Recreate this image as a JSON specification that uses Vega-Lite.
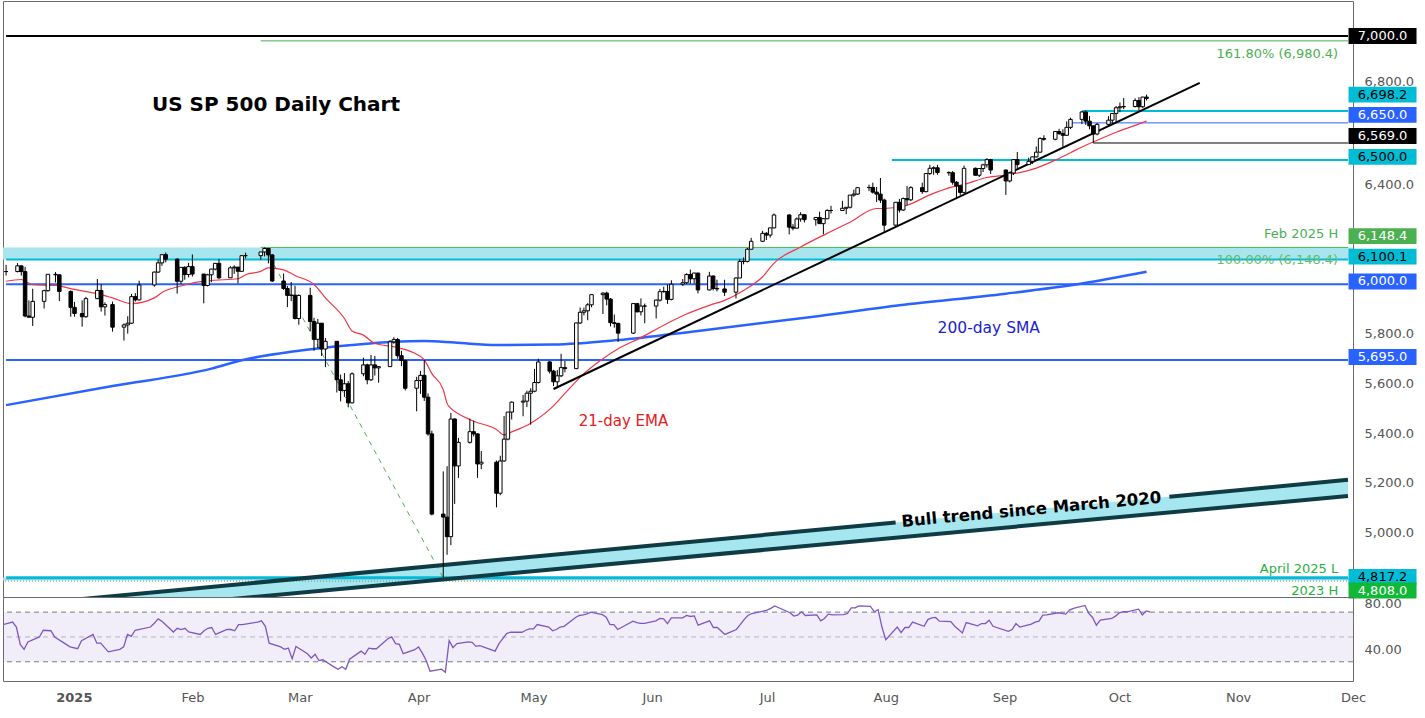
{
 "$schema": "https://vega.github.io/schema/vega-lite/v6.json",
 "background": "white",
 "padding": 0,
 "spacing": 0,
 "bounds": "flush",
 "config": {"view": {"stroke": "#6b6b6b", "strokeWidth": 1}, "font": "DejaVu Sans", "axis": {"labelFont": "DejaVu Sans"}},
 "datasets": {
  "candles": [
   {"d":"2024-12-13","o":6051,"h":6078,"l":6035,"c":6051,"r":59.5},
   {"d":"2024-12-16","o":6051,"h":6085,"l":6048,"c":6074,"r":62},
   {"d":"2024-12-17","o":6074,"h":6076,"l":6035,"c":6051,"r":58},
   {"d":"2024-12-18","o":6051,"h":6070,"l":5867,"c":5872,"r":44},
   {"d":"2024-12-19","o":5872,"h":5935,"l":5866,"c":5867,"r":40},
   {"d":"2024-12-20","o":5867,"h":5982,"l":5832,"c":5931,"r":46},
   {"d":"2024-12-23","o":5931,"h":5978,"l":5902,"c":5974,"r":50},
   {"d":"2024-12-24","o":5974,"h":6040,"l":5970,"c":6040,"r":55.4},
   {"d":"2024-12-26","o":6040,"h":6049,"l":6007,"c":6038,"r":55},
   {"d":"2024-12-27","o":6038,"h":6040,"l":5932,"c":5971,"r":50},
   {"d":"2024-12-30","o":5971,"h":5975,"l":5869,"c":5907,"r":44},
   {"d":"2024-12-31","o":5907,"h":5929,"l":5869,"c":5882,"r":42},
   {"d":"2025-01-02","o":5882,"h":5935,"l":5829,"c":5869,"r":40.5},
   {"d":"2025-01-03","o":5869,"h":5949,"l":5865,"c":5942,"r":47},
   {"d":"2025-01-06","o":5942,"h":6021,"l":5940,"c":5975,"r":52},
   {"d":"2025-01-07","o":5975,"h":6000,"l":5890,"c":5909,"r":45},
   {"d":"2025-01-08","o":5909,"h":5927,"l":5874,"c":5918,"r":45},
   {"d":"2025-01-10","o":5918,"h":5930,"l":5809,"c":5827,"r":38},
   {"d":"2025-01-13","o":5827,"h":5842,"l":5773,"c":5836,"r":40},
   {"d":"2025-01-14","o":5836,"h":5871,"l":5801,"c":5843,"r":42},
   {"d":"2025-01-15","o":5843,"h":5961,"l":5840,"c":5950,"r":52},
   {"d":"2025-01-16","o":5950,"h":5964,"l":5930,"c":5937,"r":50.5},
   {"d":"2025-01-17","o":5937,"h":6014,"l":5935,"c":5997,"r":55.4},
   {"d":"2025-01-21","o":5997,"h":6051,"l":5990,"c":6049,"r":58},
   {"d":"2025-01-22","o":6049,"h":6100,"l":6045,"c":6086,"r":61},
   {"d":"2025-01-23","o":6086,"h":6119,"l":6074,"c":6119,"r":64.6},
   {"d":"2025-01-24","o":6119,"h":6128,"l":6088,"c":6101,"r":62.7},
   {"d":"2025-01-27","o":6101,"h":6105,"l":5962,"c":6012,"r":54},
   {"d":"2025-01-28","o":6012,"h":6069,"l":6001,"c":6068,"r":57},
   {"d":"2025-01-29","o":6068,"h":6072,"l":6018,"c":6039,"r":56},
   {"d":"2025-01-30","o":6039,"h":6086,"l":6028,"c":6071,"r":57},
   {"d":"2025-01-31","o":6071,"h":6120,"l":6031,"c":6041,"r":54},
   {"d":"2025-02-03","o":6041,"h":6041,"l":5923,"c":5995,"r":52},
   {"d":"2025-02-04","o":5995,"h":6042,"l":5991,"c":6038,"r":55},
   {"d":"2025-02-05","o":6038,"h":6062,"l":6008,"c":6061,"r":57},
   {"d":"2025-02-06","o":6061,"h":6084,"l":6056,"c":6084,"r":57.6},
   {"d":"2025-02-07","o":6084,"h":6101,"l":6020,"c":6026,"r":52},
   {"d":"2025-02-10","o":6026,"h":6073,"l":6026,"c":6066,"r":56},
   {"d":"2025-02-11","o":6066,"h":6076,"l":6042,"c":6069,"r":56},
   {"d":"2025-02-12","o":6069,"h":6069,"l":6003,"c":6052,"r":55},
   {"d":"2025-02-13","o":6052,"h":6116,"l":6051,"c":6115,"r":60},
   {"d":"2025-02-14","o":6115,"h":6127,"l":6104,"c":6115,"r":60},
   {"d":"2025-02-18","o":6115,"h":6130,"l":6099,"c":6130,"r":62},
   {"d":"2025-02-19","o":6130,"h":6148,"l":6112,"c":6144,"r":63},
   {"d":"2025-02-20","o":6144,"h":6146,"l":6084,"c":6118,"r":58.6},
   {"d":"2025-02-21","o":6118,"h":6121,"l":6009,"c":6013,"r":45},
   {"d":"2025-02-24","o":6013,"h":6043,"l":5977,"c":5983,"r":42},
   {"d":"2025-02-25","o":5983,"h":5993,"l":5908,"c":5955,"r":40},
   {"d":"2025-02-26","o":5955,"h":6009,"l":5932,"c":5956,"r":41},
   {"d":"2025-02-27","o":5956,"h":5994,"l":5858,"c":5862,"r":32.4},
   {"d":"2025-02-28","o":5862,"h":5959,"l":5837,"c":5955,"r":42.4},
   {"d":"2025-03-03","o":5955,"h":5986,"l":5810,"c":5850,"r":36.5},
   {"d":"2025-03-04","o":5850,"h":5865,"l":5732,"c":5778,"r":33},
   {"d":"2025-03-05","o":5778,"h":5860,"l":5742,"c":5843,"r":36},
   {"d":"2025-03-06","o":5843,"h":5843,"l":5711,"c":5739,"r":31},
   {"d":"2025-03-07","o":5739,"h":5783,"l":5666,"c":5770,"r":31.6},
   {"d":"2025-03-10","o":5770,"h":5770,"l":5564,"c":5615,"r":25.7},
   {"d":"2025-03-11","o":5615,"h":5636,"l":5528,"c":5572,"r":24},
   {"d":"2025-03-12","o":5572,"h":5642,"l":5546,"c":5599,"r":26},
   {"d":"2025-03-13","o":5599,"h":5610,"l":5504,"c":5522,"r":24},
   {"d":"2025-03-14","o":5522,"h":5645,"l":5520,"c":5639,"r":32},
   {"d":"2025-03-17","o":5639,"h":5704,"l":5629,"c":5675,"r":38.6},
   {"d":"2025-03-18","o":5675,"h":5680,"l":5597,"c":5615,"r":36},
   {"d":"2025-03-19","o":5615,"h":5715,"l":5610,"c":5675,"r":41},
   {"d":"2025-03-20","o":5675,"h":5711,"l":5632,"c":5663,"r":40.5},
   {"d":"2025-03-21","o":5663,"h":5670,"l":5603,"c":5668,"r":40.5},
   {"d":"2025-03-24","o":5668,"h":5775,"l":5668,"c":5768,"r":48.6},
   {"d":"2025-03-25","o":5768,"h":5787,"l":5760,"c":5777,"r":50},
   {"d":"2025-03-26","o":5777,"h":5784,"l":5700,"c":5712,"r":44.6},
   {"d":"2025-03-27","o":5712,"h":5732,"l":5670,"c":5693,"r":44},
   {"d":"2025-03-28","o":5693,"h":5695,"l":5572,"c":5581,"r":36.5},
   {"d":"2025-03-31","o":5581,"h":5627,"l":5488,"c":5612,"r":39.7},
   {"d":"2025-04-01","o":5612,"h":5651,"l":5558,"c":5633,"r":42},
   {"d":"2025-04-02","o":5633,"h":5695,"l":5530,"c":5545,"r":37},
   {"d":"2025-04-03","o":5545,"h":5560,"l":5390,"c":5397,"r":31},
   {"d":"2025-04-04","o":5397,"h":5410,"l":5069,"c":5074,"r":22.4},
   {"d":"2025-04-07","o":5074,"h":5246,"l":4817,"c":5062,"r":24},
   {"d":"2025-04-08","o":5062,"h":5267,"l":4910,"c":4983,"r":21.6},
   {"d":"2025-04-09","o":4983,"h":5481,"l":4949,"c":5457,"r":47},
   {"d":"2025-04-10","o":5457,"h":5460,"l":5115,"c":5268,"r":41.4},
   {"d":"2025-04-11","o":5268,"h":5381,"l":5220,"c":5363,"r":44.6},
   {"d":"2025-04-14","o":5363,"h":5459,"l":5358,"c":5406,"r":46},
   {"d":"2025-04-15","o":5406,"h":5450,"l":5387,"c":5397,"r":45.7},
   {"d":"2025-04-16","o":5397,"h":5400,"l":5220,"c":5276,"r":42.4},
   {"d":"2025-04-17","o":5276,"h":5328,"l":5255,"c":5283,"r":43},
   {"d":"2025-04-21","o":5283,"h":5290,"l":5101,"c":5158,"r":38.6},
   {"d":"2025-04-22","o":5158,"h":5309,"l":5150,"c":5288,"r":44.6},
   {"d":"2025-04-23","o":5288,"h":5469,"l":5285,"c":5376,"r":48.6},
   {"d":"2025-04-24","o":5376,"h":5484,"l":5371,"c":5485,"r":52.7},
   {"d":"2025-04-25","o":5485,"h":5528,"l":5455,"c":5525,"r":53.8},
   {"d":"2025-04-28","o":5525,"h":5554,"l":5468,"c":5529,"r":53.8},
   {"d":"2025-04-29","o":5529,"h":5571,"l":5505,"c":5561,"r":55.4},
   {"d":"2025-04-30","o":5561,"h":5581,"l":5434,"c":5569,"r":56.5},
   {"d":"2025-05-01","o":5569,"h":5659,"l":5565,"c":5604,"r":56.5},
   {"d":"2025-05-02","o":5604,"h":5700,"l":5600,"c":5687,"r":60},
   {"d":"2025-05-05","o":5687,"h":5690,"l":5640,"c":5650,"r":58},
   {"d":"2025-05-06","o":5650,"h":5655,"l":5590,"c":5607,"r":55},
   {"d":"2025-05-07","o":5607,"h":5654,"l":5586,"c":5631,"r":56},
   {"d":"2025-05-08","o":5631,"h":5720,"l":5626,"c":5664,"r":58},
   {"d":"2025-05-09","o":5664,"h":5691,"l":5645,"c":5660,"r":58.6},
   {"d":"2025-05-12","o":5660,"h":5845,"l":5660,"c":5844,"r":65.7},
   {"d":"2025-05-13","o":5844,"h":5906,"l":5840,"c":5887,"r":67.3},
   {"d":"2025-05-14","o":5887,"h":5906,"l":5875,"c":5893,"r":67.8},
   {"d":"2025-05-15","o":5893,"h":5924,"l":5855,"c":5917,"r":68.6},
   {"d":"2025-05-16","o":5917,"h":5958,"l":5907,"c":5958,"r":70},
   {"d":"2025-05-19","o":5958,"h":5968,"l":5880,"c":5964,"r":68},
   {"d":"2025-05-20","o":5964,"h":5970,"l":5915,"c":5940,"r":66},
   {"d":"2025-05-21","o":5940,"h":5945,"l":5830,"c":5845,"r":60},
   {"d":"2025-05-22","o":5845,"h":5878,"l":5825,"c":5842,"r":60},
   {"d":"2025-05-23","o":5842,"h":5845,"l":5768,"c":5803,"r":56},
   {"d":"2025-05-27","o":5803,"h":5922,"l":5800,"c":5922,"r":62.7},
   {"d":"2025-05-28","o":5922,"h":5925,"l":5886,"c":5889,"r":61.6},
   {"d":"2025-05-29","o":5889,"h":5943,"l":5874,"c":5912,"r":61},
   {"d":"2025-05-30","o":5912,"h":5922,"l":5843,"c":5912,"r":61},
   {"d":"2025-06-02","o":5912,"h":5939,"l":5862,"c":5936,"r":63},
   {"d":"2025-06-03","o":5936,"h":5981,"l":5930,"c":5970,"r":64.9},
   {"d":"2025-06-04","o":5970,"h":5990,"l":5966,"c":5971,"r":64.6},
   {"d":"2025-06-05","o":5971,"h":5999,"l":5921,"c":5939,"r":60.8},
   {"d":"2025-06-06","o":5939,"h":6016,"l":5935,"c":6000,"r":65.4},
   {"d":"2025-06-09","o":6000,"h":6021,"l":5993,"c":6006,"r":65.4},
   {"d":"2025-06-10","o":6006,"h":6044,"l":6001,"c":6039,"r":67.3},
   {"d":"2025-06-11","o":6039,"h":6059,"l":6002,"c":6022,"r":66.5},
   {"d":"2025-06-12","o":6022,"h":6046,"l":6003,"c":6045,"r":67},
   {"d":"2025-06-13","o":6045,"h":6046,"l":5963,"c":5977,"r":59.5},
   {"d":"2025-06-16","o":5977,"h":6050,"l":5975,"c":6033,"r":63},
   {"d":"2025-06-17","o":6033,"h":6036,"l":5975,"c":5983,"r":57.6},
   {"d":"2025-06-18","o":5983,"h":6018,"l":5971,"c":5981,"r":57.6},
   {"d":"2025-06-20","o":5981,"h":6018,"l":5953,"c":5968,"r":52},
   {"d":"2025-06-23","o":5968,"h":6028,"l":5943,"c":6025,"r":56},
   {"d":"2025-06-24","o":6025,"h":6101,"l":6025,"c":6092,"r":60},
   {"d":"2025-06-25","o":6092,"h":6108,"l":6080,"c":6092,"r":64},
   {"d":"2025-06-26","o":6092,"h":6146,"l":6088,"c":6141,"r":67.3},
   {"d":"2025-06-27","o":6141,"h":6187,"l":6140,"c":6173,"r":68.9},
   {"d":"2025-06-30","o":6173,"h":6215,"l":6170,"c":6205,"r":70.8},
   {"d":"2025-07-01","o":6205,"h":6210,"l":6178,"c":6198,"r":71.6},
   {"d":"2025-07-02","o":6198,"h":6227,"l":6188,"c":6227,"r":73},
   {"d":"2025-07-03","o":6227,"h":6285,"l":6225,"c":6279,"r":75},
   {"d":"2025-07-07","o":6279,"h":6282,"l":6201,"c":6230,"r":69.5},
   {"d":"2025-07-08","o":6230,"h":6242,"l":6217,"c":6226,"r":66.8},
   {"d":"2025-07-09","o":6226,"h":6269,"l":6224,"c":6263,"r":67.6},
   {"d":"2025-07-10","o":6263,"h":6290,"l":6252,"c":6280,"r":70.3},
   {"d":"2025-07-11","o":6280,"h":6282,"l":6249,"c":6260,"r":67.3},
   {"d":"2025-07-14","o":6260,"h":6270,"l":6236,"c":6269,"r":67.8},
   {"d":"2025-07-15","o":6269,"h":6292,"l":6243,"c":6244,"r":63},
   {"d":"2025-07-16","o":6244,"h":6266,"l":6201,"c":6264,"r":64.9},
   {"d":"2025-07-17","o":6264,"h":6302,"l":6262,"c":6297,"r":68.4},
   {"d":"2025-07-18","o":6297,"h":6316,"l":6285,"c":6297,"r":67.8},
   {"d":"2025-07-21","o":6297,"h":6336,"l":6295,"c":6306,"r":68},
   {"d":"2025-07-22","o":6306,"h":6310,"l":6282,"c":6310,"r":68.9},
   {"d":"2025-07-23","o":6310,"h":6360,"l":6305,"c":6359,"r":73.5},
   {"d":"2025-07-24","o":6359,"h":6381,"l":6352,"c":6363,"r":73.5},
   {"d":"2025-07-25","o":6363,"h":6390,"l":6360,"c":6389,"r":75},
   {"d":"2025-07-28","o":6389,"h":6401,"l":6375,"c":6390,"r":74.6},
   {"d":"2025-07-29","o":6390,"h":6409,"l":6365,"c":6371,"r":70.3},
   {"d":"2025-07-30","o":6371,"h":6392,"l":6331,"c":6363,"r":72},
   {"d":"2025-07-31","o":6363,"h":6428,"l":6327,"c":6339,"r":58},
   {"d":"2025-08-01","o":6339,"h":6345,"l":6212,"c":6238,"r":47.8},
   {"d":"2025-08-04","o":6238,"h":6330,"l":6235,"c":6330,"r":58},
   {"d":"2025-08-05","o":6330,"h":6344,"l":6289,"c":6299,"r":53.5},
   {"d":"2025-08-06","o":6299,"h":6349,"l":6295,"c":6345,"r":57.6},
   {"d":"2025-08-07","o":6345,"h":6396,"l":6318,"c":6340,"r":57.6},
   {"d":"2025-08-08","o":6340,"h":6395,"l":6335,"c":6389,"r":62},
   {"d":"2025-08-11","o":6389,"h":6409,"l":6364,"c":6373,"r":58.6},
   {"d":"2025-08-12","o":6373,"h":6446,"l":6370,"c":6446,"r":64},
   {"d":"2025-08-13","o":6446,"h":6481,"l":6440,"c":6467,"r":65.4},
   {"d":"2025-08-14","o":6467,"h":6475,"l":6441,"c":6469,"r":65.7},
   {"d":"2025-08-15","o":6469,"h":6481,"l":6441,"c":6450,"r":62.7},
   {"d":"2025-08-18","o":6450,"h":6455,"l":6437,"c":6449,"r":62.4},
   {"d":"2025-08-19","o":6449,"h":6456,"l":6401,"c":6411,"r":58.6},
   {"d":"2025-08-20","o":6411,"h":6415,"l":6343,"c":6396,"r":56},
   {"d":"2025-08-21","o":6396,"h":6400,"l":6360,"c":6370,"r":53.2},
   {"d":"2025-08-22","o":6370,"h":6478,"l":6365,"c":6467,"r":61.6},
   {"d":"2025-08-25","o":6467,"h":6470,"l":6438,"c":6439,"r":59},
   {"d":"2025-08-26","o":6439,"h":6467,"l":6432,"c":6466,"r":60.8},
   {"d":"2025-08-27","o":6466,"h":6485,"l":6452,"c":6481,"r":60.8},
   {"d":"2025-08-28","o":6481,"h":6508,"l":6470,"c":6502,"r":63.5},
   {"d":"2025-08-29","o":6502,"h":6505,"l":6444,"c":6460,"r":58.6},
   {"d":"2025-09-02","o":6460,"h":6462,"l":6360,"c":6416,"r":54.6},
   {"d":"2025-09-03","o":6416,"h":6453,"l":6410,"c":6448,"r":56},
   {"d":"2025-09-04","o":6448,"h":6502,"l":6440,"c":6502,"r":60.8},
   {"d":"2025-09-05","o":6502,"h":6533,"l":6460,"c":6482,"r":58},
   {"d":"2025-09-08","o":6482,"h":6510,"l":6480,"c":6495,"r":60.3},
   {"d":"2025-09-09","o":6495,"h":6513,"l":6485,"c":6513,"r":62},
   {"d":"2025-09-10","o":6513,"h":6555,"l":6510,"c":6532,"r":62.7},
   {"d":"2025-09-11","o":6532,"h":6592,"l":6530,"c":6587,"r":67.6},
   {"d":"2025-09-12","o":6587,"h":6600,"l":6578,"c":6584,"r":67.8},
   {"d":"2025-09-15","o":6584,"h":6616,"l":6580,"c":6615,"r":69.5},
   {"d":"2025-09-16","o":6615,"h":6626,"l":6601,"c":6607,"r":69},
   {"d":"2025-09-17","o":6607,"h":6624,"l":6552,"c":6600,"r":68.4},
   {"d":"2025-09-18","o":6600,"h":6656,"l":6598,"c":6632,"r":71.6},
   {"d":"2025-09-19","o":6632,"h":6671,"l":6625,"c":6664,"r":73},
   {"d":"2025-09-22","o":6664,"h":6697,"l":6645,"c":6694,"r":75.4},
   {"d":"2025-09-23","o":6694,"h":6700,"l":6642,"c":6657,"r":69},
   {"d":"2025-09-24","o":6657,"h":6677,"l":6624,"c":6638,"r":65.7},
   {"d":"2025-09-25","o":6638,"h":6640,"l":6569,"c":6605,"r":59.5},
   {"d":"2025-09-26","o":6605,"h":6650,"l":6600,"c":6644,"r":63.5},
   {"d":"2025-09-29","o":6644,"h":6677,"l":6640,"c":6661,"r":64.9},
   {"d":"2025-09-30","o":6661,"h":6689,"l":6643,"c":6688,"r":66.8},
   {"d":"2025-10-01","o":6688,"h":6718,"l":6650,"c":6711,"r":69.5},
   {"d":"2025-10-02","o":6711,"h":6732,"l":6693,"c":6715,"r":70.3},
   {"d":"2025-10-03","o":6715,"h":6750,"l":6705,"c":6716,"r":70.3},
   {"d":"2025-10-06","o":6716,"h":6749,"l":6712,"c":6740,"r":72.4},
   {"d":"2025-10-07","o":6740,"h":6754,"l":6701,"c":6715,"r":67.8},
   {"d":"2025-10-08","o":6715,"h":6755,"l":6710,"c":6754,"r":71},
   {"d":"2025-10-09","o":6754,"h":6764,"l":6740,"c":6748,"r":70.3}
  ],
  "ema": [
   {"d":"2024-12-13","v":6012},{"d":"2024-12-17","v":6019},{"d":"2024-12-20","v":5998},{"d":"2024-12-26","v":5995},
   {"d":"2024-12-31","v":5979},{"d":"2025-01-06","v":5962},{"d":"2025-01-10","v":5945},{"d":"2025-01-15","v":5922},
   {"d":"2025-01-21","v":5945},{"d":"2025-01-23","v":5967},{"d":"2025-01-28","v":5993},{"d":"2025-01-31","v":6005},
   {"d":"2025-02-05","v":6015},{"d":"2025-02-12","v":6022},{"d":"2025-02-14","v":6038},{"d":"2025-02-18","v":6052},
   {"d":"2025-02-20","v":6066},{"d":"2025-02-24","v":6058},{"d":"2025-02-27","v":6035},{"d":"2025-03-04","v":5999},
   {"d":"2025-03-07","v":5945},{"d":"2025-03-12","v":5862},{"d":"2025-03-14","v":5812},{"d":"2025-03-17","v":5795},
   {"d":"2025-03-20","v":5762},{"d":"2025-03-26","v":5745},{"d":"2025-03-31","v":5718},{"d":"2025-04-02","v":5695},
   {"d":"2025-04-04","v":5640},{"d":"2025-04-07","v":5575},{"d":"2025-04-08","v":5520},{"d":"2025-04-09","v":5500},
   {"d":"2025-04-11","v":5478},{"d":"2025-04-15","v":5448},{"d":"2025-04-21","v":5415},{"d":"2025-04-23","v":5393},
   {"d":"2025-04-25","v":5405},{"d":"2025-04-30","v":5440},{"d":"2025-05-06","v":5510},{"d":"2025-05-09","v":5560},
   {"d":"2025-05-14","v":5640},{"d":"2025-05-19","v":5700},{"d":"2025-05-23","v":5740},{"d":"2025-05-29","v":5785},
   {"d":"2025-06-04","v":5835},{"d":"2025-06-10","v":5880},{"d":"2025-06-16","v":5915},{"d":"2025-06-20","v":5935},
   {"d":"2025-06-25","v":5975},{"d":"2025-06-30","v":6030},{"d":"2025-07-03","v":6085},{"d":"2025-07-10","v":6150},
   {"d":"2025-07-17","v":6205},{"d":"2025-07-23","v":6250},{"d":"2025-07-30","v":6305},{"d":"2025-08-01","v":6305},
   {"d":"2025-08-07","v":6318},{"d":"2025-08-13","v":6360},{"d":"2025-08-19","v":6392},{"d":"2025-08-22","v":6402},
   {"d":"2025-08-28","v":6430},{"d":"2025-09-03","v":6442},{"d":"2025-09-10","v":6468},{"d":"2025-09-15","v":6500},
   {"d":"2025-09-19","v":6530},{"d":"2025-09-23","v":6560},{"d":"2025-09-26","v":6580},{"d":"2025-10-01","v":6612},
   {"d":"2025-10-06","v":6640},{"d":"2025-10-09","v":6657}
  ],
  "sma": [
   {"d":"2024-12-13","v":5513},{"d":"2025-01-10","v":5590},{"d":"2025-02-05","v":5660},{"d":"2025-02-13","v":5694},
   {"d":"2025-02-27","v":5730},{"d":"2025-03-14","v":5755},{"d":"2025-03-25","v":5768},{"d":"2025-04-02","v":5771},
   {"d":"2025-04-10","v":5765},{"d":"2025-04-21","v":5755},{"d":"2025-05-06","v":5757},{"d":"2025-05-23","v":5775},
   {"d":"2025-06-13","v":5812},{"d":"2025-07-15","v":5872},{"d":"2025-08-05","v":5915},{"d":"2025-09-02","v":5962},
   {"d":"2025-09-22","v":6003},{"d":"2025-10-09","v":6050}
  ],
  "chanArea": [
   {"d":"2024-12-13","lo":4648,"hi":4703},{"d":"2025-12-01","lo":5147,"hi":5212}
  ],
  "chanLines": [
   {"d":"2024-12-13","p":4703,"g":"u1"},{"d":"2025-08-04","p":5040,"g":"u1"},
   {"d":"2025-10-15","p":5144,"g":"u2"},{"d":"2025-12-01","p":5212,"g":"u2"},
   {"d":"2024-12-13","p":4648,"g":"lo"},{"d":"2025-12-01","p":5147,"g":"lo"}
  ],
  "trend": [{"d":"2025-05-06","p":5578},{"d":"2025-10-23","p":6811}],
  "fib": [{"d":"2025-02-19","p":6148.4},{"d":"2025-04-07","p":4817.2}],
  "levels": [
   {"p":7000,"s":"2024-12-13","k":"K2"},
   {"p":6980.4,"s":"2025-02-18","k":"G1"},
   {"p":6698.2,"s":"2025-09-22","k":"T2"},
   {"p":6650,"s":"2025-09-19","k":"B1"},
   {"p":6569,"s":"2025-09-25","k":"K1"},
   {"p":6500,"s":"2025-08-03","k":"T2"},
   {"p":6148.4,"s":"2025-02-18","k":"G1"},
   {"p":6100.1,"s":"2024-12-13","k":"T2"},
   {"p":6000,"s":"2024-12-13","k":"B2"},
   {"p":5695,"s":"2024-12-13","k":"B2"},
   {"p":4817.2,"s":"2024-12-13","k":"T3"}
  ],
  "labels": [
   {"v":"7,000.0","at":7000,"k":"K"},
   {"v":"6,698.2","at":6764,"k":"T"},
   {"v":"6,650.0","at":6682,"k":"B"},
   {"v":"6,569.0","at":6597,"k":"K"},
   {"v":"6,500.0","at":6513,"k":"T"},
   {"v":"6,148.4","at":6194,"k":"G"},
   {"v":"6,100.1","at":6111,"k":"T"},
   {"v":"6,000.0","at":6011,"k":"B"},
   {"v":"5,695.0","at":5707,"k":"B"},
   {"v":"4,817.2","at":4821,"k":"T"},
   {"v":"4,808.0","at":4766,"k":"L"}
  ]
 },
 "vconcat": [
  {
   "width": 1350,
   "height": 596,
   "layer": [
    {
     "data": {"name": "chanArea"},
     "mark": {"type": "area", "color": "#a6e6ef", "clip": true},
     "encoding": {
      "x": {"field": "d", "type": "temporal", "axis": null, "scale": {"type": "utc", "domain": [{"year": 2024, "month": 12, "date": 13, "hours": 12, "utc": true}, {"year": 2025, "month": 12, "date": 1, "utc": true}]}},
      "y": {"field": "hi", "type": "quantitative", "scale": {"domain": [4740, 7141], "nice": false, "zero": false},
            "axis": {"orient": "right", "values": [5000, 5200, 5400, 5600, 5800, 6400, 6800], "format": ",.1f", "title": null, "grid": false, "ticks": false, "domain": false, "labelPadding": 11, "labelFontSize": 13, "labelColor": "#555555",
                     "labelOffset": {"condition": {"test": "datum.value==6800", "value": -4}, "value": 0}}},
      "y2": {"field": "lo"}
     }
    },
    {
     "data": {"values": [{}]},
     "mark": {"type": "rect", "color": "#a9e5ee"},
     "encoding": {"y": {"datum": 6100.1, "type": "quantitative"}, "y2": {"datum": 6148.4}}
    },
    {
     "data": {"values": [{}]},
     "mark": {"type": "rect", "color": "#bccff4"},
     "encoding": {"y": {"datum": 4806, "type": "quantitative"}, "y2": {"datum": 4817.2}}
    },
    {
     "data": {"values": [{}]},
     "mark": {"type": "rule", "color": "#4caf50", "strokeDash": [1, 2], "strokeWidth": 1},
     "encoding": {"y": {"datum": 4804, "type": "quantitative"}}
    },
    {
     "data": {"name": "levels"},
     "mark": {"type": "rule", "clip": true},
     "encoding": {
      "x": {"field": "s", "type": "temporal", "axis": null},
      "x2": {"datum": {"year": 2025, "month": 12, "date": 1, "utc": true}},
      "y": {"field": "p", "type": "quantitative"},
      "color": {"condition": [
        {"test": "indexof(datum.k,'K')==0", "value": "#000000"},
        {"test": "indexof(datum.k,'G')==0", "value": "#4caf50"},
        {"test": "indexof(datum.k,'T')==0", "value": "#00bcd4"}
       ], "value": "#2962ff"},
      "strokeWidth": {"condition": [
        {"test": "indexof(datum.k,'2')==1", "value": 2},
        {"test": "indexof(datum.k,'3')==1", "value": 3}
       ], "value": 1}
     }
    },
    {
     "data": {"name": "fib"},
     "mark": {"type": "line", "color": "#4caf50", "strokeDash": [5, 5], "strokeWidth": 1},
     "encoding": {"x": {"field": "d", "type": "temporal", "axis": null}, "y": {"field": "p", "type": "quantitative"}}
    },
    {
     "data": {"name": "sma"},
     "mark": {"type": "line", "color": "#2962ff", "strokeWidth": 2.5, "interpolate": "monotone"},
     "encoding": {"x": {"field": "d", "type": "temporal", "axis": null}, "y": {"field": "v", "type": "quantitative"}}
    },
    {
     "data": {"name": "ema"},
     "mark": {"type": "line", "color": "#f23645", "strokeWidth": 1.2, "interpolate": "monotone"},
     "encoding": {"x": {"field": "d", "type": "temporal", "axis": null}, "y": {"field": "v", "type": "quantitative"}}
    },
    {
     "data": {"name": "chanLines"},
     "mark": {"type": "line", "color": "#0f3b44", "strokeWidth": 4, "clip": true},
     "encoding": {"x": {"field": "d", "type": "temporal", "axis": null}, "y": {"field": "p", "type": "quantitative"}, "detail": {"field": "g"}}
    },
    {
     "data": {"name": "trend"},
     "mark": {"type": "line", "color": "#000000", "strokeWidth": 2},
     "encoding": {"x": {"field": "d", "type": "temporal", "axis": null}, "y": {"field": "p", "type": "quantitative"}}
    },
    {
     "data": {"name": "candles"},
     "mark": {"type": "rule", "color": "#000000", "strokeWidth": 1, "clip": true},
     "encoding": {"x": {"field": "d", "type": "temporal", "axis": null}, "y": {"field": "l", "type": "quantitative"}, "y2": {"field": "h"}}
    },
    {
     "data": {"name": "candles"},
     "mark": {"type": "bar", "width": 3.5, "stroke": "#000000", "strokeWidth": 1, "clip": true},
     "encoding": {
      "x": {"field": "d", "type": "temporal", "axis": null},
      "y": {"field": "o", "type": "quantitative"},
      "y2": {"field": "c"},
      "fill": {"condition": {"test": "datum.c >= datum.o", "value": "#ffffff"}, "value": "#000000"}
     }
    },
    {
     "data": {"values": [{}]},
     "mark": {"type": "text", "text": "US SP 500 Daily Chart", "fontSize": 20, "fontWeight": "bold", "align": "left", "baseline": "middle", "color": "#000000"},
     "encoding": {"x": {"datum": {"year": 2025, "month": 1, "date": 20, "hours": 9, "utc": true}, "type": "temporal", "axis": null}, "y": {"datum": 6722, "type": "quantitative"}}
    },
    {
     "data": {"values": [{}]},
     "mark": {"type": "text", "text": "200-day SMA", "fontSize": 15.5, "align": "center", "baseline": "middle", "color": "#1c1cd6"},
     "encoding": {"x": {"datum": {"year": 2025, "month": 8, "date": 28, "hours": 12, "utc": true}, "type": "temporal", "axis": null}, "y": {"datum": 5824, "type": "quantitative"}}
    },
    {
     "data": {"values": [{}]},
     "mark": {"type": "text", "text": "21-day EMA", "fontSize": 15, "align": "center", "baseline": "middle", "color": "#e62020"},
     "encoding": {"x": {"datum": {"year": 2025, "month": 5, "date": 24, "hours": 10, "utc": true}, "type": "temporal", "axis": null}, "y": {"datum": 5449, "type": "quantitative"}}
    },
    {
     "data": {"values": [{}]},
     "mark": {"type": "text", "text": "Bull trend since March 2020", "fontSize": 16.5, "fontWeight": "bold", "align": "center", "baseline": "middle", "angle": 354.7, "color": "#000000"},
     "encoding": {"x": {"datum": {"year": 2025, "month": 9, "date": 8, "hours": 17, "utc": true}, "type": "temporal", "axis": null}, "y": {"datum": 5091, "type": "quantitative"}}
    },
    {
     "data": {"values": [
       {"t": "161.80% (6,980.4)", "p": 6927, "g": "a"},
       {"t": "Feb 2025 H", "p": 6203, "g": "a"},
       {"t": "100.00% (6,148.4)", "p": 6098, "g": "b"},
       {"t": "April 2025 L", "p": 4853, "g": "c"},
       {"t": "2023 H", "p": 4766, "g": "c"}
     ]},
     "mark": {"type": "text", "fontSize": 13, "align": "right", "baseline": "middle"},
     "encoding": {
      "x": {"datum": {"year": 2025, "month": 11, "date": 28, "hours": 10, "utc": true}, "type": "temporal", "axis": null},
      "y": {"field": "p", "type": "quantitative"},
      "text": {"field": "t"},
      "color": {"condition": [{"test": "datum.g=='b'", "value": "#66bb6a"}, {"test": "datum.g=='c'", "value": "#1fb141"}], "value": "#4caf50"}
     }
    },
    {
     "data": {"name": "labels"},
     "mark": {"type": "point", "shape": "M-1.8,-0.42H1.8V0.42H-1.8Z", "size": 1427, "filled": true, "opacity": 1, "strokeWidth": 0},
     "encoding": {
      "x": {"datum": {"year": 2025, "month": 12, "date": 10, "hours": 2, "utc": true}, "type": "temporal", "axis": null},
      "y": {"field": "at", "type": "quantitative"},
      "color": {"condition": [
        {"test": "datum.k=='K'", "value": "#000000"},
        {"test": "datum.k=='T'", "value": "#00bcd4"},
        {"test": "datum.k=='B'", "value": "#2962ff"},
        {"test": "datum.k=='G'", "value": "#4caf50"}
       ], "value": "#0fb835"}
     }
    },
    {
     "data": {"name": "labels"},
     "mark": {"type": "text", "fontSize": 13, "align": "center", "baseline": "middle"},
     "encoding": {
      "x": {"datum": {"year": 2025, "month": 12, "date": 10, "hours": 2, "utc": true}, "type": "temporal", "axis": null},
      "y": {"field": "at", "type": "quantitative"},
      "text": {"field": "v"},
      "color": {"condition": {"test": "datum.k=='T'", "value": "#000000"}, "value": "#ffffff"}
     }
    }
   ]
  },
  {
   "width": 1350,
   "height": 84,
   "layer": [
    {
     "data": {"values": [{}]},
     "mark": {"type": "rect", "color": "#7e57c2", "opacity": 0.1},
     "encoding": {"y": {"datum": 30, "type": "quantitative", "scale": {"domain": [14.5, 82.2], "nice": false, "zero": false}}, "y2": {"datum": 70}}
    },
    {
     "data": {"values": [{"v": 70}, {"v": 50}, {"v": 30}]},
     "mark": {"type": "rule", "strokeDash": [5, 4], "strokeWidth": 1},
     "encoding": {
      "y": {"field": "v", "type": "quantitative"},
      "color": {"condition": {"test": "datum.v==50", "value": "#b2b5be"}, "value": "#787b86"}
     }
    },
    {
     "data": {"name": "candles"},
     "mark": {"type": "line", "color": "#7e57c2", "strokeWidth": 1.3, "clip": true},
     "encoding": {
      "x": {"field": "d", "type": "temporal",
            "scale": {"type": "utc", "domain": [{"year": 2024, "month": 12, "date": 13, "hours": 12, "utc": true}, {"year": 2025, "month": 12, "date": 1, "utc": true}]},
            "axis": {"orient": "bottom", "tickCount": {"interval": "month", "step": 1}, "labelExpr": "utcmonth(datum.value)==0 ? utcFormat(datum.value,'%Y') : utcFormat(datum.value,'%b')",
                     "labelFontWeight": {"condition": {"test": "utcmonth(datum.value)==0", "value": "bold"}, "value": "normal"},
                     "grid": false, "ticks": false, "domain": false, "labelPadding": 10, "labelFontSize": 13, "labelColor": "#555555", "title": null, "labelFlush": false}},
      "y": {"field": "r", "type": "quantitative",
            "axis": {"orient": "right", "values": [40, 80], "format": ".2f", "title": null, "grid": false, "ticks": false, "domain": false, "labelPadding": 11, "labelFontSize": 13, "labelColor": "#555555",
                     "labelOffset": {"condition": {"test": "datum.value==80", "value": 4}, "value": 0}}}
     }
    }
   ]
  }
 ]
}
